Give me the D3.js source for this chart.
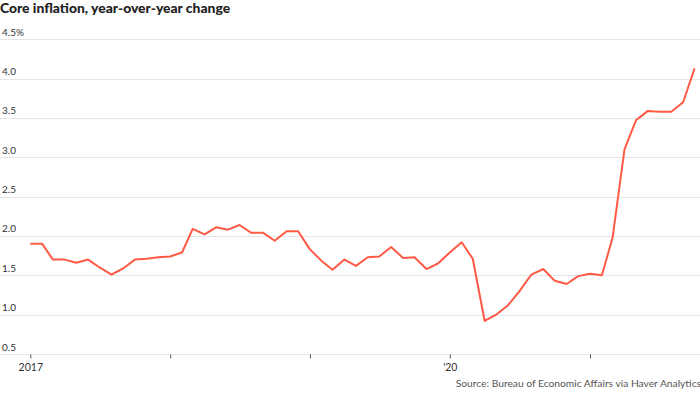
<!DOCTYPE html>
<html>
<head>
<meta charset="utf-8">
<script src="https://cdn.jsdelivr.net/npm/d3@7"></script>
<style>
  html, body { margin: 0; padding: 0; background: #fff; }
  svg { display: block; font-family: Lato, "Open Sans", sans-serif; }
</style>
</head>
<body>
<svg id="chart" width="700" height="394"></svg>
<script>
// ---- Data (Core PCE, y/y % change, monthly Jan 2017 – Oct 2021) ----
const startMonth = "2017-01";
const values = [
  1.90, 1.90, 1.70, 1.70, 1.66, 1.70, 1.60, 1.51, 1.59, 1.70, 1.71, 1.73,
  1.74, 1.79, 2.09, 2.02, 2.11, 2.08, 2.14, 2.04, 2.04, 1.94, 2.06, 2.06,
  1.83, 1.68, 1.57, 1.70, 1.62, 1.73, 1.74, 1.86, 1.72, 1.73, 1.58, 1.65,
  1.79, 1.92, 1.71, 0.92, 1.00, 1.12, 1.30, 1.51, 1.58, 1.43, 1.39, 1.49,
  1.52, 1.50, 1.98, 3.10, 3.47, 3.59, 3.58, 3.58, 3.70, 4.13
];
const yTicks = [0.5, 1.0, 1.5, 2.0, 2.5, 3.0, 3.5, 4.0, 4.5];
const xTickYears = [2017, 2018, 2019, 2020, 2021];
const xTickLabels = { 2017: "2017", 2020: "'20" };
const title = "Core inflation, year-over-year change";
const source = "Source: Bureau of Economic Affairs via Haver Analytics";

// ---- Build ----
const parse = d3.timeParse("%Y-%m");
const start = parse(startMonth);
const data = values.map((v, i) => ({ date: d3.timeMonth.offset(start, i), value: v }));

const svg = d3.select("#chart");
const W = 700;

const x = d3.scaleTime()
  .domain([data[0].date, data[data.length - 1].date])
  .range([30.3, 694.6]);
const y = d3.scaleLinear().domain([0.5, 4.5]).range([354, 39.3]);

// Title
svg.append("text")
  .attr("x", 0).attr("y", 13)
  .attr("font-size", 13.9).attr("font-weight", 900)
  .attr("fill", "#222")
  .text(title);

// Gridlines + y labels
const yg = svg.append("g");
yg.selectAll("line").data(yTicks).join("line")
  .attr("x1", 0).attr("x2", W)
  .attr("y1", d => Math.round(y(d)) + 0.5).attr("y2", d => Math.round(y(d)) + 0.5)
  .attr("stroke", "#e5e5e5").attr("stroke-width", 1);
yg.selectAll("text").data(yTicks).join("text")
  .attr("x", 2).attr("y", d => y(d) - 3.5)
  .attr("font-size", 10).attr("fill", "#333")
  .text(d => d === 4.5 ? d3.format(".1f")(d) + "%" : d3.format(".1f")(d));

// X axis ticks
const xAxis = d3.axisBottom(x)
  .tickValues(xTickYears.map(yr => new Date(yr, 0, 1)))
  .tickSize(4)
  .tickFormat(d => xTickLabels[d.getFullYear()] || "");
const xg = svg.append("g")
  .attr("transform", `translate(0,${Math.round(y(0.5)) + 0.5})`)
  .call(xAxis);
xg.select(".domain").remove();
xg.selectAll(".tick line").attr("stroke", "#555");
xg.selectAll(".tick text")
  .attr("font-family", "Lato, sans-serif")
  .attr("font-size", 10.5).attr("fill", "#333")
  .attr("y", 9);

// Line
const line = d3.line().x(d => x(d.date)).y(d => y(d.value));
svg.append("path").datum(data)
  .attr("d", line)
  .attr("fill", "none")
  .attr("stroke", "#ff5a45")
  .attr("stroke-width", 2)
  .attr("stroke-linejoin", "round");

// Source
svg.append("text")
  .attr("x", W + 1).attr("y", 387)
  .attr("text-anchor", "end")
  .attr("font-size", 10.25).attr("fill", "#555")
  .text(source);
</script>
</body>
</html>
